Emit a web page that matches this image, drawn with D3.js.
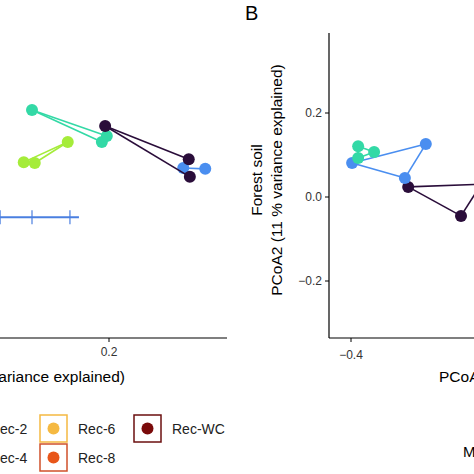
<!DOCTYPE html><html><head><script src="https://cdn.jsdelivr.net/npm/d3@7"></script>
<style>body{margin:0}svg{font-family:"Liberation Sans",Arial,sans-serif}</style></head><body>
<script>
// Left panel groups: [x,y] pairs
const leftTeal=[[0.06,0.207],[0.187,0.131],[0.196,0.145]];
const leftDark=[[0.193,0.169],[0.345,0.09],[0.347,0.048]];
const leftBlue=[[0.335,0.069],[0.375,0.067]];
const leftGreen=[[0.125,0.131],[0.045,0.083],[0.065,0.081]];
const leftErr=[0.002,0.06,0.129];const leftErrY=-0.048;
const rightTeal=[[-0.387,0.121],[-0.358,0.107],[-0.387,0.093]];
const rightBlue=[[-0.398,0.081],[-0.264,0.126],[-0.302,0.045]];
const rightDark=[[-0.296,0.024],[-0.2,-0.045],[-0.147,0.064],[-0.147,0.031]];
const yTicks=[-0.2,0.0,0.2];
const legend=[["ec-2",null],["Rec-6","#f5b942","#f5b942"],["Rec-WC","#7a0a0a","#6b0f0f"],["ec-4",null],["Rec-8","#e8561a","#d0502a"]];
const colors={teal:"#33d9a6",dark:"#2a0d3a",blue:"#4a8ef0",green:"#a5ec3a"};
const svg=d3.select("body").append("svg").attr("width",474).attr("height",474);
const y=d3.scaleLinear().domain([0,0.2]).range([197,113]);
const xl=d3.scaleLinear().domain([0.2,0.4]).range([109,219]);
const xr=d3.scaleLinear().domain([-0.4,-0.2]).range([351,461]);
function group(x,pts,edges,col){
  edges.forEach(([a,b])=>svg.append("line").attr("x1",x(pts[a][0])).attr("y1",y(pts[a][1])).attr("x2",x(pts[b][0])).attr("y2",y(pts[b][1])).attr("stroke",col).attr("stroke-width",1.6));
  pts.forEach(p=>svg.append("circle").attr("cx",x(p[0])).attr("cy",y(p[1])).attr("r",6).attr("fill",col));
}
// left panel
svg.append("line").attr("x1",0).attr("x2",227).attr("y1",338).attr("y2",338).attr("stroke","#000").attr("stroke-width",1.2);
svg.append("line").attr("x1",xl(0.2)).attr("x2",xl(0.2)).attr("y1",338).attr("y2",342).attr("stroke","#000");
svg.append("text").attr("x",xl(0.2)).attr("y",356).attr("text-anchor","middle").attr("font-size",12).attr("fill","#333").text("0.2");
svg.append("text").attr("x",125).attr("y",382).attr("text-anchor","end").attr("font-size",15.5).text("PCoA1 (16 % variance explained)");
svg.append("line").attr("x1",xl(leftErr[0])-2).attr("x2",xl(leftErr[2])+9).attr("y1",y(leftErrY)).attr("y2",y(leftErrY)).attr("stroke","#4a7fe0").attr("stroke-width",2);
leftErr.forEach(v=>svg.append("line").attr("x1",xl(v)).attr("x2",xl(v)).attr("y1",y(leftErrY)-7).attr("y2",y(leftErrY)+7).attr("stroke","#4a7fe0").attr("stroke-width",1.2));
group(xl,leftGreen,[[0,1],[0,2]],colors.green);
group(xl,leftTeal,[[0,1],[0,2],[1,2]],colors.teal);
group(xl,leftBlue,[[0,1]],colors.blue);
group(xl,leftDark,[[0,1],[0,2]],colors.dark);
// right panel
svg.append("line").attr("x1",329).attr("x2",329).attr("y1",33).attr("y2",338).attr("stroke","#000").attr("stroke-width",1.2);
svg.append("line").attr("x1",329).attr("x2",474).attr("y1",338).attr("y2",338).attr("stroke","#000").attr("stroke-width",1.2);
yTicks.forEach(t=>{svg.append("line").attr("x1",325).attr("x2",329).attr("y1",y(t)).attr("y2",y(t)).attr("stroke","#000");
 svg.append("text").attr("x",322).attr("y",y(t)+4).attr("text-anchor","end").attr("font-size",12).attr("fill","#333").text(t.toFixed(1).replace("-","−"));});
svg.append("line").attr("x1",xr(-0.4)).attr("x2",xr(-0.4)).attr("y1",338).attr("y2",342).attr("stroke","#000");
svg.append("text").attr("x",xr(-0.4)).attr("y",359).attr("text-anchor","middle").attr("font-size",12).attr("fill","#333").text("−0.4");
svg.append("text").attr("x",439).attr("y",382).attr("text-anchor","start").attr("font-size",15.5).text("PCoA1 (14 % variance explained)");
svg.append("text").attr("x",245).attr("y",20).attr("font-size",20).text("B");
svg.append("text").attr("transform","translate(262,180) rotate(-90)").attr("text-anchor","middle").attr("font-size",15.5).text("Forest soil");
svg.append("text").attr("transform","translate(282,180) rotate(-90)").attr("text-anchor","middle").attr("font-size",15.5).text("PCoA2 (11 % variance explained)");
group(xr,rightDark,[[0,1],[1,2],[0,3]],colors.dark);
group(xr,rightBlue,[[0,1],[1,2],[2,0]],colors.blue);
group(xr,rightTeal,[[0,1],[1,2],[0,2],[2,0]],colors.teal);
// legend
const pos=[[0,430],[78,430],[172,430],[0,459],[78,459]];
legend.forEach((d,i)=>{const [lx,ly]=pos[i];
 svg.append("text").attr("x",lx).attr("y",ly+4).attr("font-size",14).attr("fill","#222").text(d[0]);
 if(i>0){svg.append("rect").attr("x",lx-38).attr("y",ly-15).attr("width",27).attr("height",27).attr("fill","#fff").attr("stroke",d[2]).attr("stroke-width",1.5);
  svg.append("circle").attr("cx",lx-24.5).attr("cy",ly-1.5).attr("r",6).attr("fill",d[1]);}});
svg.append("text").attr("x",463).attr("y",457).attr("font-size",15).text("M");
</script></body></html>
